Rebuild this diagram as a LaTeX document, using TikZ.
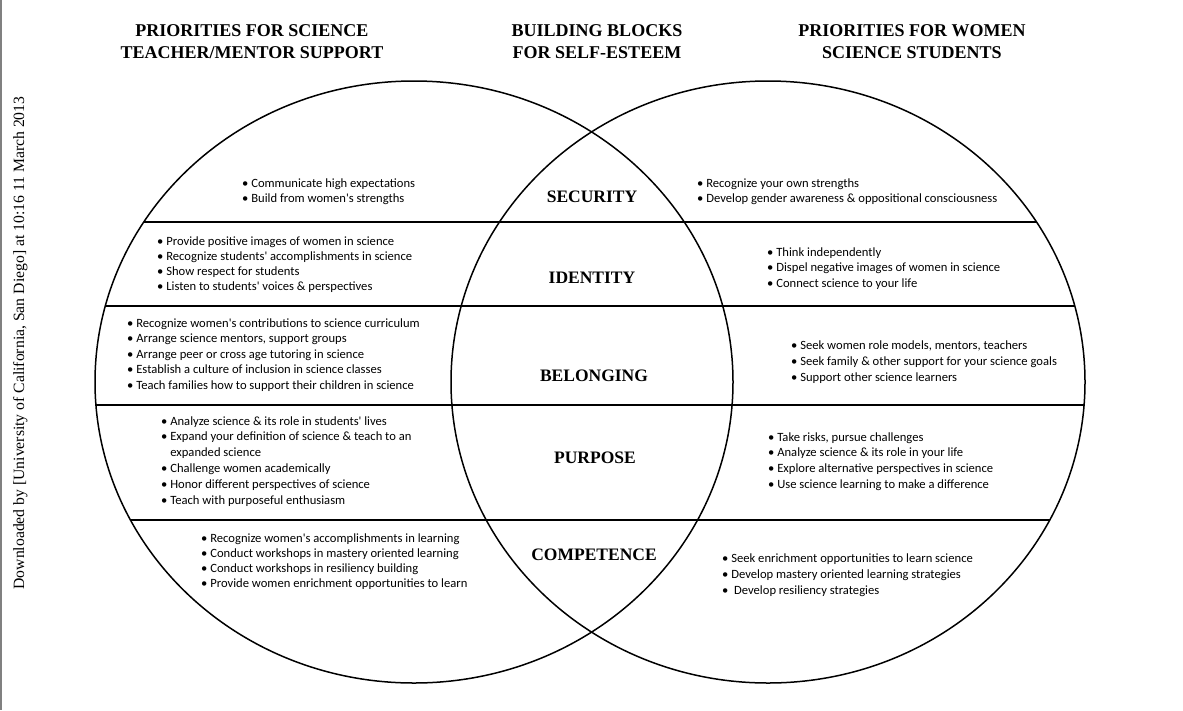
\documentclass[tikz,border=0pt]{standalone}
\usepackage{fontspec}
\setmainfont{Liberation Serif}
\newfontfamily\handfont{Carlito}
\newcommand\bulletlines[5]{%
  \foreach \txt [count=\i] in {#5} {
    \node[btxt] (#1-\i) at (#2, {#3+4+#4*(\i-1)}) {\txt};
  }}
\begin{document}
\begin{tikzpicture}[x=1pt,y=-1pt,
  venn/.style={line width=1.5pt},
  band/.style={line width=1.2pt},
  head/.style={font=\bfseries\fontsize{18}{22}\selectfont, align=center, anchor=north, inner sep=0},
  lvl/.style={font=\bfseries\fontsize{17.5}{21}\selectfont, inner sep=0},
  btxt/.style={font=\handfont\fontsize{12.6}{14}\selectfont, anchor=base west, inner sep=0}]
\useasboundingbox (0,0) rectangle (1183,710);
\draw[gray, line width=1.5pt] (0.75,0) -- (0.75,710);

% the two circles
\draw[venn] (414,382) ellipse [x radius=319pt, y radius=301pt];
\draw[venn] (768,382) ellipse [x radius=317pt, y radius=301pt];

% band lines
\coordinate (b1l) at (143.8,222); \coordinate (b1r) at (1036.5,222);
\coordinate (b2l) at (105.3,306); \coordinate (b2r) at (1074.7,306);
\coordinate (b3l) at (95.9,405);  \coordinate (b3r) at (1084.1,405);
\coordinate (b4l) at (130.5,520); \coordinate (b4r) at (1049.7,520);
\draw[band] (b1l) -- (b1r);
\draw[band] (b2l) -- (b2r);
\draw[band] (b3l) -- (b3r);
\draw[band] (b4l) -- (b4r);

% headers
\node[head] (hleft) at (252,24) {PRIORITIES FOR SCIENCE\\TEACHER/MENTOR SUPPORT};
\node[head] (hmid) at (597,24) {BUILDING BLOCKS\\FOR SELF-ESTEEM};
\node[head] (hright) at (912,24) {PRIORITIES FOR WOMEN\\SCIENCE STUDENTS};

% level labels
\node[lvl] (security) at (592,197) {SECURITY};
\node[lvl] (identity) at (592,278) {IDENTITY};
\node[lvl] (belonging) at (594,376) {BELONGING};
\node[lvl] (purpose) at (595,458) {PURPOSE};
\node[lvl] (competence) at (594,555) {COMPETENCE};

% left column
\bulletlines{ls}{242}{183}{15}{• Communicate high expectations, • Build from women's strengths}
\bulletlines{li}{157}{241}{15.3}{• Provide positive images of women in science, • Recognize students' accomplishments in science, • Show respect for students, • Listen to students' voices \& perspectives}
\bulletlines{lb}{127}{323}{15.5}{• Recognize women's contributions to science curriculum, {• Arrange science mentors, support groups}, • Arrange peer or cross age tutoring in science, • Establish a culture of inclusion in science classes, • Teach families how to support their children in science}
\bulletlines{lp}{161}{421}{15.8}{• Analyze science \& its role in students' lives, • Expand your definition of science \& teach to an, \hphantom{• }expanded science, • Challenge women academically, • Honor different perspectives of science, • Teach with purposeful enthusiasm}
\bulletlines{lc}{201}{538}{15.3}{• Recognize women's accomplishments in learning, • Conduct workshops in mastery oriented learning, • Conduct workshops in resiliency building, • Provide women enrichment opportunities to learn}

% right column
\bulletlines{rs}{697}{183}{15}{• Recognize your own strengths, • Develop gender awareness \& oppositional consciousness}
\bulletlines{ri}{767}{252}{15.5}{• Think independently, • Dispel negative images of women in science, • Connect science to your life}
\bulletlines{rb}{791}{345}{16}{{• Seek women role models, mentors, teachers}, • Seek family \& other support for your science goals, • Support other science learners}
\bulletlines{rp}{768}{437}{15.7}{{• Take risks, pursue challenges}, • Analyze science \& its role in your life, • Explore alternative perspectives in science, • Use science learning to make a difference}
\bulletlines{rc}{722}{558}{16}{• Seek enrichment opportunities to learn science, • Develop mastery oriented learning strategies, •\ \ Develop resiliency strategies}

% side note
\node[rotate=90, anchor=base, inner sep=0, font=\fontsize{15.7}{18}\selectfont] (dl) at (24,343) {Downloaded by [University of California, San Diego] at 10:16 11 March 2013};
\end{tikzpicture}
\end{document}
